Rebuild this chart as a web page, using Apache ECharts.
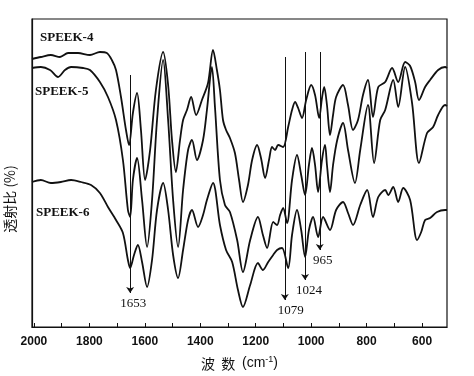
<!DOCTYPE html>
<html>
<head>
<meta charset="utf-8">
<title>SPEEK IR</title>
<script src="https://cdn.jsdelivr.net/npm/echarts@6/dist/echarts.min.js"></script>
<style>
  html, body { margin: 0; padding: 0; background: #fff; }
  #chart { width: 474px; height: 376px; }
</style>
</head>
<body>
<div id="chart"></div>
<script>
// wavenumber (cm-1) / transmittance (arbitrary units)
const s4Wn = [2007,1975,1939,1906,1877,1841,1798,1762,1737,1719,1704,1686,1668,1657,1643,1628,1614,1599,1581,1560,1534,1516,1502,1488,1473,1462,1448,1433,1415,1394,1372,1354,1340,1329,1318,1307,1293,1275,1260,1246,1228,1213,1195,1181,1166,1152,1141,1130,1119,1101,1083,1069,1058,1047,1033,1018,1000,986,971,961,953,943,932,921,910,885,867,849,831,813,795,777,758,733,708,686,661,643,625,611,589,571,542,517,510];
const s4T = [268,270,272,270,274,274,272,275,274,267,257,230,197,182,214,234,197,147,177,237,275,242,187,155,187,207,217,230,212,227,244,277,257,237,207,197,189,174,147,125,142,167,182,169,149,167,180,177,182,180,200,217,225,219,209,227,242,232,209,229,240,222,192,212,230,242,222,197,207,232,247,210,240,245,259,245,265,261,245,227,240,247,257,260,259];

const s5Wn = [2007,1975,1942,1913,1888,1866,1823,1798,1762,1733,1704,1679,1661,1653,1643,1628,1610,1592,1574,1556,1534,1516,1498,1480,1462,1444,1430,1412,1390,1376,1358,1347,1329,1311,1293,1267,1246,1220,1192,1174,1159,1137,1123,1112,1101,1087,1069,1051,1036,1022,1008,997,986,975,961,950,943,932,921,906,885,867,842,823,795,773,751,733,704,686,661,636,611,582,560,542,517,510];
const s5T = [259,260,257,250,257,260,259,257,245,230,207,167,117,110,147,169,127,80,127,207,267,207,127,80,137,177,187,167,187,217,260,220,147,122,115,87,55,87,110,92,79,105,102,112,119,104,147,172,152,132,162,179,162,135,167,182,162,135,162,187,204,177,144,177,222,164,207,217,247,220,260,224,164,194,200,212,222,221];

const s6Wn = [2007,1975,1939,1903,1866,1830,1794,1762,1733,1704,1679,1661,1653,1639,1625,1610,1592,1574,1556,1534,1516,1498,1480,1462,1444,1430,1408,1390,1376,1354,1329,1307,1285,1264,1246,1220,1192,1174,1155,1137,1123,1105,1083,1069,1051,1036,1022,1008,993,975,957,932,910,885,867,849,823,798,777,758,733,722,704,686,668,643,618,603,589,571,546,517,510];
const s6T = [145,147,144,145,147,145,142,134,120,107,94,67,59,72,82,65,40,67,117,144,117,72,49,77,107,117,100,112,127,144,102,77,65,37,20,42,64,57,65,72,77,79,59,92,117,97,70,97,110,90,110,97,117,125,114,102,122,137,110,130,137,132,140,125,139,127,87,95,107,109,115,117,117];

const seriesNames = ['SPEEK-4', 'SPEEK-5', 'SPEEK-6'];

// annotated bands: where the arrow sits, its label, arrow top and tip
const peakWn = [1653, 1095, 1022, 969];
const peakLabels = ['1653', '1079', '1024', '965'];
const arrowTop = [252, 270, 275, 275];
const arrowTip = [34, 27, 47, 77];
const peakLabelShift = [3, 6, 4, 3];

const tickLabels = [2000, 1800, 1600, 1400, 1200, 1000, 800, 600];
const tickMarks = [2000, 1900, 1800, 1700, 1600, 1500, 1400, 1300, 1200, 1100, 1000, 900, 800, 700, 600];

const chart = echarts.init(document.getElementById('chart'));

const lineStyle = { color: '#111', width: 1.8 };
function pairs(wn, t) {
  return wn.map((w, i) => [w, t[i]]);
}

const arrows = peakWn.map((w, i) => [
  { coord: [w, arrowTop[i]], symbol: 'none' },
  {
    coord: [w, arrowTip[i]],
    label: { show: true, formatter: peakLabels[i], offset: [peakLabelShift[i], 0] }
  }
]);

const option = {
  animation: false,
  grid: {
    left: 32, top: 19, width: 415, height: 308,
    show: true, borderColor: '#111', borderWidth: 1.2
  },
  xAxis: {
    type: 'value',
    min: 510,
    max: 2007,
    inverse: true,
    axisLine: { show: true, lineStyle: { color: '#111', width: 1.2 } },
    axisTick: { show: true, inside: true, length: 4, customValues: tickMarks, lineStyle: { color: '#111' } },
    axisLabel: {
      customValues: tickLabels,
      formatter: v => String(v),
      margin: 9,
      color: '#111',
      fontFamily: 'Liberation Sans',
      fontWeight: 'bold',
      fontSize: 12
    },
    splitLine: { show: false },
    name: '{cn|波  数}  {en|(cm}{sup|-1}{en|)}',
    nameLocation: 'middle',
    nameGap: 28,
    nameTextStyle: {
      rich: {
        cn: { fontFamily: 'Noto Sans CJK SC', fontSize: 14, color: '#111' },
        en: { fontFamily: 'Liberation Sans', fontSize: 14, color: '#111' },
        sup: { fontFamily: 'Liberation Sans', fontSize: 9, color: '#111', verticalAlign: 'top', padding: [0, 0, 8, 0] }
      }
    }
  },
  yAxis: {
    type: 'value',
    min: 0,
    max: 308,
    axisLine: { show: true, lineStyle: { color: '#111', width: 1.2 } },
    axisTick: { show: false },
    axisLabel: { show: false },
    splitLine: { show: false }
  },
  graphic: [
    { type: 'text', left: 40, top: 31, style: { text: seriesNames[0], font: 'bold 13px "Liberation Serif"', fill: '#111' } },
    { type: 'text', left: 35, top: 85, style: { text: seriesNames[1], font: 'bold 13px "Liberation Serif"', fill: '#111' } },
    { type: 'text', left: 36, top: 206, style: { text: seriesNames[2], font: 'bold 13px "Liberation Serif"', fill: '#111' } },
    {
      type: 'text', x: 3, y: 199, rotation: Math.PI / 2,
      style: { text: '透射比 (%)', font: '14px "Noto Sans CJK SC"', fill: '#111', align: 'center', verticalAlign: 'top' }
    }
  ],
  series: [
    { name: seriesNames[0], type: 'line', data: pairs(s4Wn, s4T), showSymbol: false, smooth: 0.3, lineStyle: lineStyle },
    { name: seriesNames[1], type: 'line', data: pairs(s5Wn, s5T), showSymbol: false, smooth: 0.3, lineStyle: lineStyle },
    {
      name: seriesNames[2], type: 'line', data: pairs(s6Wn, s6T), showSymbol: false, smooth: 0.3, lineStyle: lineStyle,
      markLine: {
        silent: true,
        symbol: ['none', 'arrow'],
        symbolSize: 6,
        lineStyle: { color: '#111', width: 1, type: 'solid' },
        label: {
          position: 'end',
          distance: 4,
          color: '#111',
          fontFamily: 'Liberation Serif',
          fontSize: 13
        },
        data: arrows
      }
    }
  ]
};

chart.setOption(option);
window.addEventListener('resize', () => chart.resize());
</script>
</body>
</html>
